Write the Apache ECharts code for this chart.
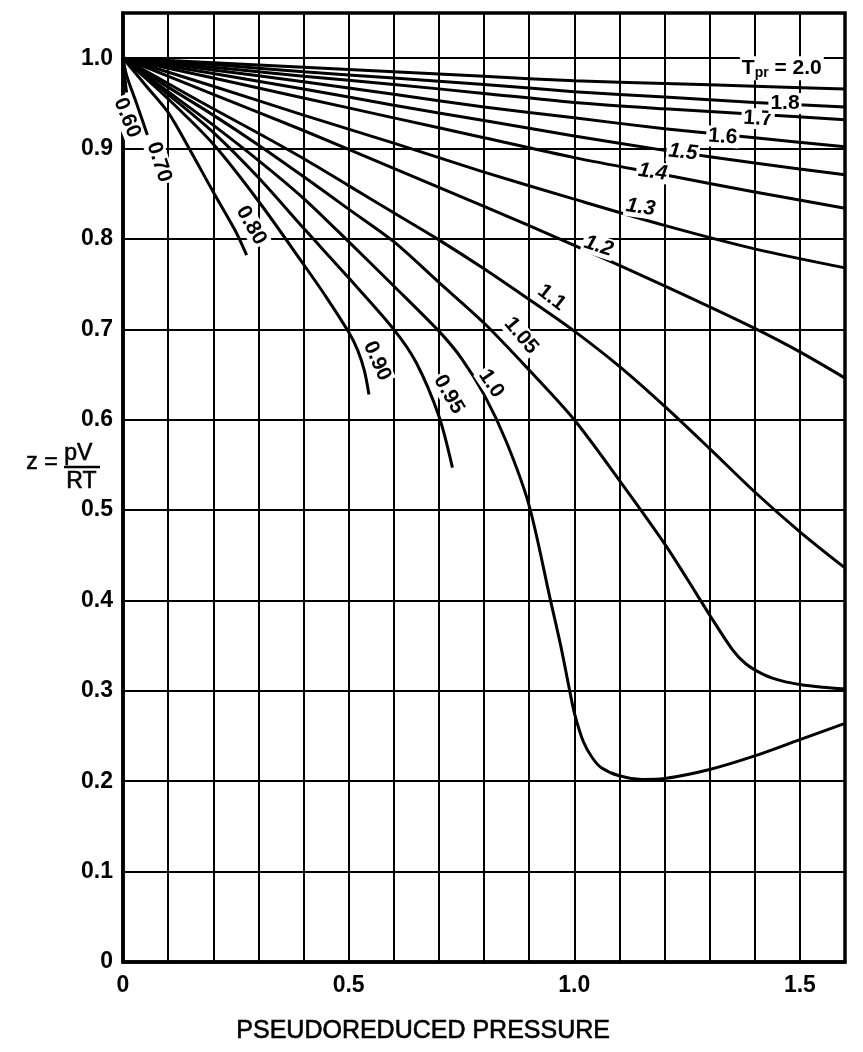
<!DOCTYPE html>
<html>
<head>
<meta charset="utf-8">
<script src="https://cdn.jsdelivr.net/npm/echarts@6/dist/echarts.min.js"></script>
<style>
html,body{margin:0;padding:0;background:#fff;}
#chart{width:863px;height:1052px;}
</style>
</head>
<body>
<div id="chart"></div>
<script>
// ---- data (pseudoreduced pressure, z) ----
const tpr060 = [[0,1.0],[0.003,0.985],[0.006,0.97],[0.008,0.962]];
const tpr070 = [[0,1.0],[0.008,0.981],[0.03,0.950],[0.054,0.915]];
const tpr080 = [[0,1.0],[0.05,0.970],[0.1,0.940],[0.15,0.897],[0.2,0.852],[0.25,0.808],[0.274,0.782]];
const tpr090 = [[0,1.0],[0.1,0.955],[0.2,0.905],[0.3,0.842],[0.4,0.772],[0.45,0.736],[0.5,0.697],[0.52,0.677],[0.535,0.654],[0.545,0.628]];
const tpr095 = [[0,1.0],[0.1,0.960],[0.2,0.918],[0.3,0.868],[0.4,0.812],[0.5,0.757],[0.6,0.700],[0.65,0.663],[0.7,0.604],[0.73,0.547]];
const tpr100 = [[0,1.0],[0.1,0.963],[0.2,0.926],[0.3,0.887],[0.4,0.845],[0.5,0.797],[0.6,0.748],[0.7,0.698],[0.75,0.668],[0.8,0.628],[0.85,0.575],[0.9,0.505],[0.947,0.401],[0.97,0.350],[0.99,0.300],[1.0,0.276],[1.02,0.244],[1.04,0.226],[1.06,0.215],[1.1,0.206],[1.15,0.202],[1.2,0.203],[1.3,0.213],[1.4,0.228],[1.5,0.246],[1.6,0.264]];
const tpr105 = [[0,1.0],[0.1,0.968],[0.2,0.937],[0.3,0.904],[0.4,0.869],[0.5,0.833],[0.6,0.797],[0.7,0.752],[0.8,0.707],[0.9,0.655],[1.0,0.600],[1.1,0.533],[1.2,0.463],[1.25,0.424],[1.3,0.384],[1.35,0.346],[1.38,0.330],[1.42,0.318],[1.46,0.311],[1.5,0.307],[1.55,0.304],[1.6,0.302]];
const tpr110 = [[0,1.0],[0.1,0.972],[0.2,0.944],[0.3,0.917],[0.4,0.889],[0.5,0.859],[0.6,0.829],[0.7,0.799],[0.8,0.767],[0.9,0.733],[1.0,0.698],[1.1,0.659],[1.2,0.615],[1.3,0.568],[1.4,0.520],[1.5,0.476],[1.6,0.436]];
const tpr120 = [[0,1.0],[0.2,0.960],[0.4,0.920],[0.6,0.878],[0.8,0.836],[1.0,0.793],[1.2,0.748],[1.4,0.701],[1.5,0.675],[1.6,0.646]];
const tpr130 = [[0,1.0],[0.2,0.969],[0.4,0.937],[0.6,0.906],[0.8,0.874],[1.0,0.844],[1.2,0.815],[1.4,0.789],[1.6,0.768]];
const tpr140 = [[0,1.0],[0.2,0.978],[0.4,0.956],[0.6,0.934],[0.8,0.912],[1.0,0.890],[1.2,0.871],[1.4,0.852],[1.6,0.834]];
const tpr150 = [[0,1.0],[0.2,0.983],[0.4,0.966],[0.6,0.948],[0.8,0.931],[1.0,0.914],[1.2,0.898],[1.4,0.884],[1.6,0.871]];
const tpr160 = [[0,1.0],[0.2,0.987],[0.4,0.974],[0.6,0.960],[0.8,0.946],[1.0,0.934],[1.2,0.922],[1.4,0.912],[1.6,0.902]];
const tpr170 = [[0,1.0],[0.2,0.990],[0.4,0.980],[0.6,0.971],[0.8,0.961],[1.0,0.951],[1.2,0.944],[1.4,0.938],[1.6,0.932]];
const tpr180 = [[0,1.0],[0.2,0.993],[0.4,0.985],[0.6,0.978],[0.8,0.971],[1.0,0.963],[1.2,0.957],[1.4,0.951],[1.6,0.946]];
const tpr200 = [[0,1.0],[0.2,0.995],[0.4,0.990],[0.6,0.985],[0.8,0.980],[1.0,0.975],[1.2,0.972],[1.4,0.969],[1.6,0.966]];

const curveNames = ['0.60','0.70','0.80','0.90','0.95','1.0','1.05','1.1','1.2','1.3','1.4','1.5','1.6','1.7','1.8','2.0'];
const curveData = [tpr060,tpr070,tpr080,tpr090,tpr095,tpr100,tpr105,tpr110,tpr120,tpr130,tpr140,tpr150,tpr160,tpr170,tpr180,tpr200];

const xTickValues = [0, 0.5, 1.0, 1.5];
const xTickLabels = ['0', '0.5', '1.0', '1.5'];
const yTickValues = [0,0.1,0.2,0.3,0.4,0.5,0.6,0.7,0.8,0.9,1.0];
const yTickLabels = ['0','0.1','0.2','0.3','0.4','0.5','0.6','0.7','0.8','0.9','1.0'];

// curve label placement (text, anchor in data coords, rotation, italic)
const labelDefs = [
  {t:'0.60', x:0.009, y:0.934, r:-68, i:false},
  {t:'0.70', x:0.080, y:0.885, r:-72, i:false},
  {t:'0.80', x:0.284, y:0.815, r:-60, i:false},
  {t:'0.90', x:0.563, y:0.665, r:-66, i:false},
  {t:'0.95', x:0.722, y:0.628, r:-60, i:false},
  {t:'1.0',  x:0.816, y:0.640, r:-56, i:false},
  {t:'1.05', x:0.882, y:0.693, r:-50, i:false},
  {t:'1.1',  x:0.950, y:0.735, r:-38, i:false},
  {t:'1.2',  x:1.054, y:0.792, r:-18, i:true},
  {t:'1.3',  x:1.147, y:0.835, r:-8, i:true},
  {t:'1.4',  x:1.174, y:0.874, r:-8, i:true},
  {t:'1.5',  x:1.241, y:0.896, r:-6, i:true},
  {t:'1.6',  x:1.329, y:0.913, r:-4, i:false},
  {t:'1.7',  x:1.407, y:0.933, r:-3, i:false},
  {t:'1.8',  x:1.467, y:0.950, r:0, i:false},
  {t:'{a|T}{s|pr}{a| = 2.0}', x:1.460, y:0.989, r:0, i:false}
];

const FONT = 'Liberation Sans, Arial, Helvetica, sans-serif';
const chart = echarts.init(document.getElementById('chart'), null, {renderer:'canvas'});

const series = curveData.map((d, k) => ({
  name: 'Tpr ' + curveNames[k],
  type: 'line',
  data: d,
  showSymbol: false,
  smooth: 0.3,
  lineStyle: {color:'#000', width:3},
  z: 3,
  silent: true
}));

series.push({
  name: 'labels',
  type: 'scatter',
  symbolSize: 0,
  z: 10,
  silent: true,
  itemStyle: {opacity: 1, color: '#000'},
  data: labelDefs.map(l => ({
    value: [l.x, l.y],
    label: {
      show: true,
      position: 'inside',
      formatter: l.t,
      rotate: l.r,
      fontStyle: l.i ? 'italic' : 'normal',
      fontFamily: FONT,
      fontWeight: 'bold',
      fontSize: 21,
      color: '#000',
      opacity: 1,
      backgroundColor: '#fff',
      padding: [0, 2, 0, 2],
      rich: {
        a: {fontFamily: FONT, fontWeight:'bold', fontSize:21, color:'#000'},
        s: {fontFamily: FONT, fontWeight:'bold', fontSize:14, color:'#000', padding:[10,0,0,0]}
      }
    }
  }))
});

const option = {
  animation: false,
  backgroundColor: '#fff',
  grid: {left:123, right:18, top:13, bottom:90, show:true, borderColor:'#000', borderWidth:3.5, backgroundColor:'transparent'},
  xAxis: {
    type:'value', min:0, max:1.6, interval:0.1,
    axisLine:{show:true, lineStyle:{color:'#000', width:3.5}},
    axisTick:{show:false},
    splitLine:{show:true, lineStyle:{color:'#000', width:2}},
    axisLabel:{
      color:'#000', fontFamily:FONT, fontWeight:'bold', fontSize:23, margin:12,
      formatter: v => { const i = xTickValues.findIndex(t => Math.abs(t - v) < 1e-6); return i >= 0 ? xTickLabels[i] : ''; }
    }
  },
  yAxis: {
    type:'value', min:0, max:1.05, interval:0.1,
    axisLine:{show:true, lineStyle:{color:'#000', width:3.5}},
    axisTick:{show:false},
    splitLine:{show:true, lineStyle:{color:'#000', width:2}},
    axisLabel:{
      color:'#000', fontFamily:FONT, fontWeight:'bold', fontSize:23, margin:10,
      formatter: v => { const i = yTickValues.findIndex(t => Math.abs(t - v) < 1e-6); return i >= 0 ? yTickLabels[i] : ''; }
    }
  },
  graphic: [
    {type:'text', left:26, top:451, style:{text:'z =', font:'23px ' + FONT, fill:'#000', stroke:'#000', lineWidth:0.6}},
    {type:'text', left:64, top:442, style:{text:'pV', font:'23px ' + FONT, fill:'#000', stroke:'#000', lineWidth:0.6}},
    {type:'line', shape:{x1:64, y1:467, x2:100, y2:467}, style:{stroke:'#000', lineWidth:2.5}},
    {type:'text', left:66, top:470, style:{text:'RT', font:'23px ' + FONT, fill:'#000', stroke:'#000', lineWidth:0.6}},
    {type:'text', left:236, top:1018, style:{text:'PSEUDOREDUCED PRESSURE', font:'25px ' + FONT, fill:'#000', stroke:'#000', lineWidth:0.6}}
  ],
  series: series
};
chart.setOption(option);
</script>
</body>
</html>
